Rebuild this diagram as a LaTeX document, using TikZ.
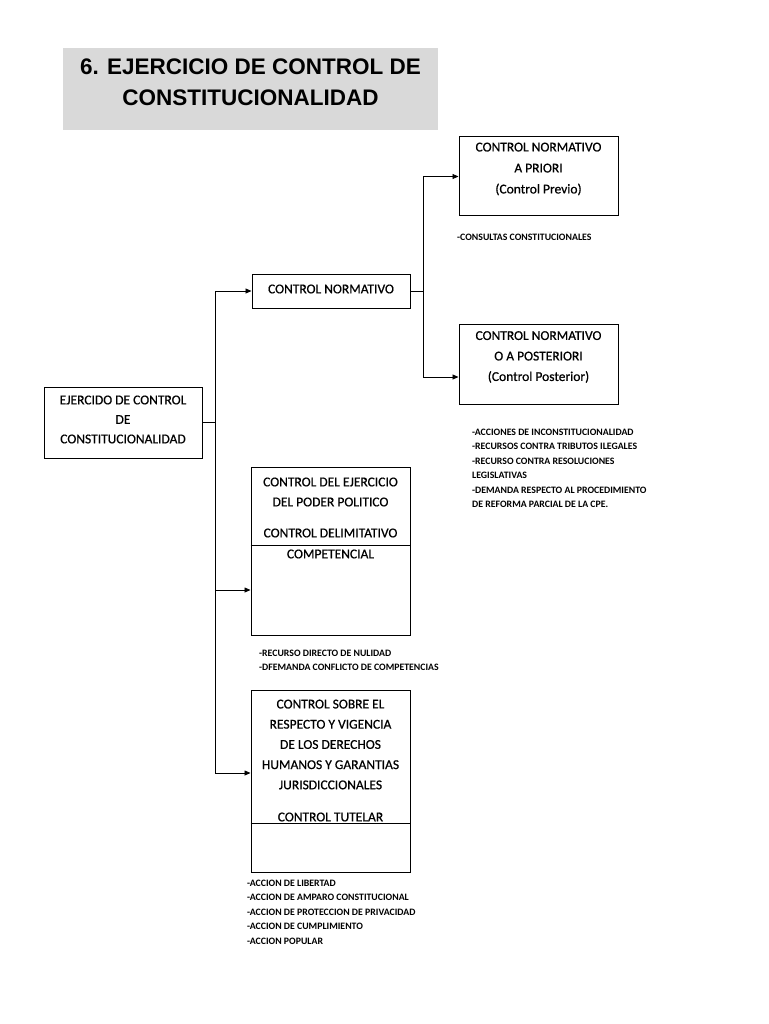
\documentclass[tikz,border=0pt]{standalone}
\usepackage{fontspec}
\setmainfont{Carlito}
\newfontfamily\boxfont[FakeBold=0.6]{Carlito}
\newfontfamily\titlefont{Liberation Sans}
\usetikzlibrary{arrows.meta}
\definecolor{titlegray}{RGB}{217,217,217}
\tikzset{
  box/.style={draw=black, line width=1pt, inner sep=0pt, fill=white},
  boxtext/.style={inner sep=0pt, align=center, font=\boxfont\fontsize{13.5}{20}\selectfont},
  listtext/.style={inner sep=0pt, align=left, anchor=west, font=\fontsize{9.8}{14.5}\selectfont\bfseries},
  conn/.style={draw=black, line width=0.8pt},
  arr/.style={conn, -{Triangle[length=6pt,width=5pt]}},
}
\begin{document}
\begin{tikzpicture}[x=1pt,y=-1pt]
\useasboundingbox[fill=white] (0,0) rectangle (768,1024);

% title
\node[fill=titlegray, minimum width=375pt, minimum height=82pt, inner sep=0pt] (titlebg) at (250.5,89) {};
\node[inner sep=0pt, align=center, font=\titlefont\bfseries\fontsize{22.5}{31}\selectfont] (title) at (250.5,82.5) {6. EJERCICIO DE CONTROL DE\\CONSTITUCIONALIDAD};

% boxes
\node[box, minimum width=158pt, minimum height=71pt] (main) at (123,422.5) {};
\node[boxtext, font=\boxfont\fontsize{13.5}{19.5}\selectfont] (maintxt) at (123,419.5) {EJERCIDO DE CONTROL\\DE\\CONSTITUCIONALIDAD};

\node[box, minimum width=158pt, minimum height=34pt] (cn) at (331,291) {};
\node[boxtext] (cntxt) at (331,289) {CONTROL NORMATIVO};

\node[box, minimum width=159pt, minimum height=79pt] (ap) at (538.5,176.5) {};
\node[boxtext, font=\boxfont\fontsize{13.5}{21}\selectfont] (aptxt) at (538.5,169) {CONTROL NORMATIVO\\A PRIORI\\(Control Previo)};

\node[box, minimum width=159pt, minimum height=80pt] (pp) at (538.5,364) {};
\node[boxtext, font=\boxfont\fontsize{13.5}{20.5}\selectfont] (pptxt) at (538.5,357) {CONTROL NORMATIVO\\O A POSTERIORI\\(Control Posterior)};

\node[box, minimum width=159pt, minimum height=168pt] (cp) at (330.5,551) {};
\draw[conn, line width=1pt] (cp.west |- 0,545) -- (cp.east |- 0,545);
\node[boxtext] (cptxt1) at (330.5,492) {CONTROL DEL EJERCICIO\\DEL PODER POLITICO};
\node[boxtext, font=\boxfont\fontsize{13.5}{21}\selectfont] (cptxt2) at (330.5,543.5) {CONTROL DELIMITATIVO\\COMPETENCIAL};

\node[box, minimum width=159pt, minimum height=182pt] (tp) at (330.5,781) {};
\draw[conn, line width=1pt] (tp.west |- 0,823) -- (tp.east |- 0,823);
\node[boxtext, font=\boxfont\fontsize{13.5}{20.2}\selectfont] (tptxt1) at (330.5,744.5) {CONTROL SOBRE EL\\RESPECTO Y VIGENCIA\\DE LOS DERECHOS\\HUMANOS Y GARANTIAS\\JURISDICCIONALES};
\node[boxtext] (tptxt2) at (330.5,817) {CONTROL TUTELAR};

% lists
\node[listtext] (l1) at (457,237) {-CONSULTAS CONSTITUCIONALES};
\node[listtext] (l2) at (472,468.5) {-ACCIONES DE INCONSTITUCIONALIDAD\\-RECURSOS CONTRA TRIBUTOS ILEGALES\\-RECURSO CONTRA RESOLUCIONES\\LEGISLATIVAS\\-DEMANDA RESPECTO AL PROCEDIMIENTO\\DE REFORMA PARCIAL DE LA CPE.};
\node[listtext, font=\fontsize{9.8}{14}\selectfont\bfseries] (l3) at (259,660) {-RECURSO DIRECTO DE NULIDAD\\-DFEMANDA CONFLICTO DE COMPETENCIAS};
\node[listtext] (l4) at (247,912) {-ACCION DE LIBERTAD\\-ACCION DE AMPARO CONSTITUCIONAL\\-ACCION DE PROTECCION DE PRIVACIDAD\\-ACCION DE CUMPLIMIENTO\\-ACCION POPULAR};

% connectors
\coordinate (trunk) at (215,422.5);
\draw[conn] (main.east) -- (trunk);
\draw[arr] (trunk) |- (cn.west);
\draw[arr] (trunk) |- ([yshift=-39pt]cp.west);
\draw[arr] (trunk) |- ([yshift=8pt]tp.west);

\coordinate (br) at (423,291);
\draw[conn] (cn.east) -- (br);
\draw[arr] (br) |- (ap.west);
\draw[arr] (br) |- ([yshift=-13pt]pp.west);
\end{tikzpicture}
\end{document}
